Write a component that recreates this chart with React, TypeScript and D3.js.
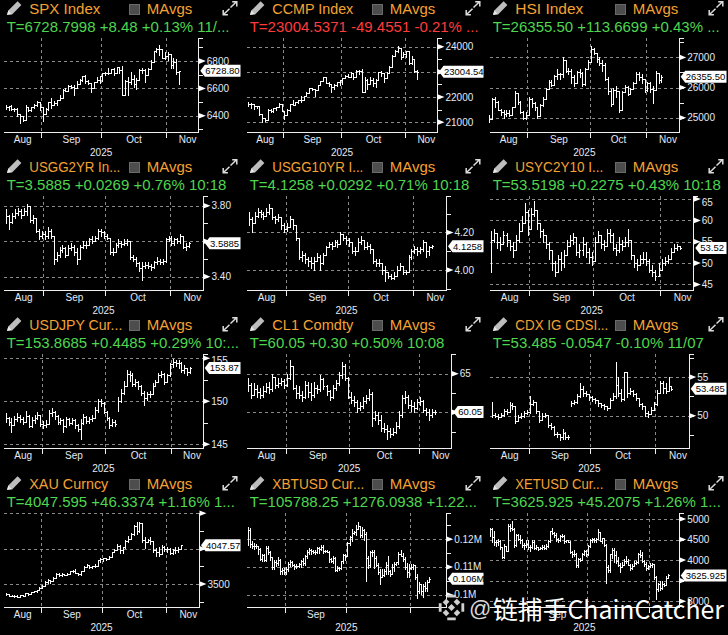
import React from 'react';
import * as d3 from 'd3';

const ORANGE = '#f6a233';
const GREEN = '#4fd64f';
const RED = '#ff3b3b';
const AXIS = '#eeeeee';
const LABEL = '#e4eaf4';
const GRID = '#8a8a8a';
const FONT = '"Liberation Sans", Arial, sans-serif';

// ---------------- SPX Index ----------------
const spxClose = [6466.6,6468.5,6449.8,6449.2,6411.4,6395.8,6370.2,6466.9,6439.3,6465.9,6481.4,6501.9,6460.3,
  6415.5,6448.3,6502.1,6481.5,6495.2,6512.6,6532.0,6587.5,6584.3,6615.3,6606.8,6600.4,6631.9,6664.4,6693.8,6656.9,6637.9,6604.7,6643.7,6661.2,6688.5,
  6711.2,6715.4,6715.8,6740.3,6714.6,6753.7,6735.1,6552.5,6654.7,6644.3,6671.1,6629.1,6664.0,6735.1,6735.4,6699.4,6738.4,6791.7,6875.2,6890.9,6890.6,6822.3,6840.2,
  6852.0,6771.6,6796.3,6720.3,6728.8];
const spxHigh = [6480,6473,6481,6459,6456,6410,6394,6481,6466,6467,6487,6508,6493,
  6416,6453,6502,6533,6511,6513,6555,6592,6600,6626,6627,6624,6656,6671,6694,6697,6662,6640,6649,6680,6689,
  6715,6721,6750,6744,6750,6755,6756,6764,6665,6680,6720,6701,6673,6745,6750,6744,6746,6807,6875,6899,6920,6869,6866,
  6865,6828,6825,6812,6731];
const spxLow = [6450,6441,6441,6438,6400,6343,6360,6385,6438,6437,6457,6472,6444,
  6360,6418,6445,6454,6488,6479,6523,6539,6578,6599,6600,6551,6609,6637,6655,6640,6630,6570,6600,6645,6640,
  6651,6698,6705,6720,6700,6717,6715,6550,6600,6550,6630,6612,6597,6681,6715,6648,6700,6763,6844,6866,6847,6820,6815,
  6810,6752,6751,6707,6631];

// ---------------- CCMP Index ----------------
const ccmpClose = [21713,21711,21623,21630,21315,21172,21100,21496,21449,21544,21590,21705,21455,
  21280,21498,21707,21700,21799,21879,21886,22043,22141,22349,22333,22262,22470,22631,22789,22573,22498,22384,22484,22591,22660,
  22755,22844,22781,22941,22788,23043,23025,22204,22695,22521,22671,22562,22680,22991,22954,22740,22942,23205,23637,23827,23958,23581,23725,
  23834,23349,23500,23054,23004.5];
const ccmpHigh = [21800,21760,21720,21660,21600,21260,21180,21520,21510,21560,21620,21750,21680,
  21300,21520,21710,21880,21820,21890,22040,22060,22180,22360,22370,22330,22490,22640,22800,22800,22590,22460,22500,22610,22670,
  22770,22860,22930,22980,22960,23060,23070,23110,22780,22710,22800,22760,22710,23010,23030,22970,22990,23230,23660,23880,24020,23770,23800,
  23850,23650,23640,23470,23060];
const ccmpLow = [21640,21580,21520,21560,21290,20990,21040,21180,21420,21390,21500,21600,21430,
  21130,21380,21460,21700,21720,21760,21800,21880,22050,22190,22280,22040,22340,22530,22620,22550,22430,22200,22300,22440,22480,
  22520,22770,22780,22840,22730,22870,22920,22180,22530,22300,22560,22450,22410,22800,22850,22600,22830,23090,23560,23730,23810,23530,23580,
  23610,23300,23320,22990,22700];

// ---------------- HSI Index ----------------
const hsiClose = [24969,25613,25519,25270,25177,25122,25166,25105,25339,25829,25525,25201,24998,25077,
  25617,25497,25343,25058,25418,25633,25938,26200,26086,26388,26446,26438,26908,26544,26545,26344,26159,26519,26485,26128,26622,26855,
  27287,27140,26957,26829,26752,26290,25889,25441,25910,25888,25247,25858,26027,25781,25967,26160,26433,26347,26282,25907,
  26159,25952,25935,26485,26242,26355.5];
const hsiHigh = [25100,25650,25680,25560,25300,25250,25250,25250,25360,25900,25780,25550,25230,25200,
  25680,25650,25520,25350,25450,25700,26000,26250,26250,26420,26600,26480,27000,26800,26640,26600,26400,26550,26600,26500,26650,26900,
  27380,27300,27150,27000,26900,26800,26350,25950,26000,26050,25900,25900,26100,26050,26000,26200,26500,26500,26450,26200,
  26200,26200,26050,26550,26400,26420];
const hsiLow = [24850,25100,25350,25250,25100,25000,25050,25050,25100,25350,25450,25150,24950,24950,
  25200,25350,25250,25000,25100,25400,25700,25950,26050,26100,26300,26300,26350,26500,26450,26150,26050,26150,26350,26050,26100,26600,
  26950,27100,26850,26750,26550,26250,25800,25400,25600,25700,25200,25500,25850,25750,25800,25950,26200,26250,26150,25850,
  25900,25850,25500,26000,26150,26200];

// ---------------- USGG2YR ----------------
const us2Close = [3.74,3.71,3.74,3.76,3.77,3.75,3.77,3.80,3.72,3.73,3.66,3.63,3.64,3.63,3.66,3.63,3.50,3.52,3.55,3.56,
  3.52,3.56,3.57,3.54,3.50,3.57,3.58,3.58,3.61,3.60,3.62,3.66,3.65,3.63,3.62,3.54,3.54,3.58,3.59,3.585,
  3.59,3.60,3.51,3.50,3.475,3.45,3.46,3.465,3.46,3.455,3.48,3.49,3.48,3.49,3.61,3.62,3.59,3.61,3.60,3.63,3.57,3.575,3.5885];
const us2High = [3.78,3.75,3.76,3.78,3.79,3.78,3.79,3.81,3.79,3.75,3.73,3.67,3.66,3.66,3.68,3.67,3.61,3.54,3.57,3.58,
  3.57,3.58,3.59,3.58,3.56,3.58,3.60,3.60,3.62,3.63,3.63,3.67,3.67,3.66,3.64,3.62,3.56,3.59,3.61,3.60,
  3.61,3.61,3.60,3.52,3.51,3.48,3.48,3.48,3.48,3.47,3.49,3.51,3.50,3.50,3.62,3.63,3.63,3.62,3.62,3.64,3.63,3.59,3.595];
const us2Low = [3.70,3.67,3.70,3.73,3.75,3.73,3.75,3.75,3.71,3.70,3.65,3.61,3.62,3.61,3.62,3.62,3.47,3.49,3.51,3.54,
  3.51,3.52,3.55,3.52,3.47,3.50,3.56,3.56,3.58,3.59,3.60,3.61,3.63,3.62,3.61,3.53,3.52,3.54,3.57,3.57,
  3.58,3.58,3.50,3.49,3.46,3.43,3.38,3.45,3.45,3.44,3.45,3.47,3.47,3.47,3.48,3.60,3.58,3.58,3.59,3.59,3.56,3.55,3.57];

// ---------------- USGG10YR ----------------
const us10Close = [4.27,4.25,4.29,4.31,4.30,4.29,4.31,4.33,4.28,4.27,4.28,4.24,4.22,4.23,4.27,4.24,4.17,4.07,4.08,4.06,
  4.05,4.04,4.05,4.07,4.04,4.08,4.12,4.14,4.13,4.15,4.14,4.19,4.17,4.16,4.15,4.10,4.10,4.15,4.16,4.12,
  4.13,4.11,4.05,4.04,4.04,4.00,3.99,3.97,3.96,3.97,4.00,4.02,3.99,3.99,4.07,4.10,4.11,4.10,4.11,4.15,4.10,4.12,4.126];
const us10High = [4.31,4.28,4.31,4.33,4.32,4.31,4.33,4.35,4.32,4.29,4.30,4.28,4.25,4.25,4.29,4.27,4.24,4.14,4.10,4.09,
  4.07,4.07,4.07,4.09,4.08,4.09,4.13,4.15,4.15,4.16,4.16,4.20,4.19,4.18,4.17,4.15,4.12,4.17,4.18,4.16,
  4.15,4.14,4.10,4.06,4.06,4.04,4.02,3.99,3.98,3.99,4.02,4.04,4.02,4.00,4.08,4.11,4.13,4.12,4.12,4.16,4.15,4.13,4.135];
const us10Low = [4.24,4.20,4.25,4.28,4.28,4.27,4.29,4.30,4.27,4.25,4.26,4.22,4.20,4.21,4.23,4.22,4.16,4.06,4.05,4.04,
  4.02,4.01,4.00,4.05,4.00,4.03,4.10,4.12,4.11,4.13,4.12,4.14,4.16,4.14,4.13,4.09,4.08,4.10,4.14,4.11,
  4.11,4.09,4.04,4.02,4.02,3.98,3.94,3.96,3.95,3.95,3.97,4.00,3.98,3.98,3.99,4.06,4.09,4.08,4.09,4.10,4.07,4.08,4.115];

// ---------------- USYC2Y10 ----------------
const ycClose = [55.5,57.0,55.0,54.5,56.5,55.5,54.0,53.0,55.5,57.5,59.5,62.0,58.0,61.5,62.5,59.5,57.5,56.5,54.5,53.0,
  50.0,48.0,51.0,50.0,52.0,54.0,55.5,56.0,52.5,53.0,54.5,52.5,51.5,50.5,55.0,56.5,54.5,54.0,57.0,56.5,
  53.5,53.0,54.5,54.0,55.0,55.5,52.0,50.0,49.5,51.0,51.0,50.5,48.5,48.0,47.0,48.5,50.0,50.5,51.0,52.5,53.5,54.0,53.52];
const ycHigh = [57.5,58.0,57.0,56.0,57.5,57.0,55.5,55.0,56.5,59.5,61.0,64.0,62.5,63.0,64.5,62.0,59.5,58.0,56.5,55.0,
  53.0,50.5,52.0,52.5,53.0,55.5,56.5,57.0,56.0,54.5,56.0,55.0,53.5,52.5,56.0,57.5,56.0,55.5,58.0,58.0,
  57.0,54.5,56.0,55.5,56.0,58.0,55.0,52.0,51.0,52.0,52.5,52.5,51.0,49.5,48.5,50.0,51.0,51.5,52.0,53.5,54.5,54.5,53.8];
const ycLow = [48.0,55.0,53.5,53.0,54.5,54.0,53.0,51.5,53.5,55.0,57.5,59.5,56.5,59.0,61.0,58.0,56.0,55.0,53.5,51.0,
  48.5,47.0,49.0,48.5,49.0,52.5,54.5,54.5,52.0,51.5,52.0,51.5,50.0,49.5,50.5,55.0,53.5,53.0,54.5,55.0,
  53.0,52.0,52.5,53.0,54.0,54.0,51.0,49.0,48.5,49.5,50.0,49.5,48.0,47.0,46.0,47.0,48.5,49.5,50.0,51.0,52.5,53.0,53.2];

// ---------------- USDJPY ----------------
const jpyClose = [148.1,147.6,147.2,147.9,148.2,147.9,147.6,148.3,147.1,147.8,148.0,148.4,147.3,147.2,147.4,148.6,148.8,148.3,147.6,147.8,
  147.1,147.9,147.5,147.8,147.2,146.8,147.5,148.2,147.7,147.9,148.0,149.0,150.0,149.8,148.8,148.0,147.2,147.6,147.4,150.0,
  151.0,151.8,153.2,153.0,152.0,152.2,151.8,151.0,150.4,150.8,150.9,151.8,152.2,153.0,153.2,152.2,153.0,154.3,154.6,154.4,
  154.5,153.6,153.9,153.4,153.87];
const jpyHigh = [148.6,148.2,148.0,148.3,148.6,148.4,148.2,148.9,148.4,148.2,148.4,148.7,148.4,147.7,147.8,149.0,149.2,148.9,148.4,148.1,
  147.9,148.2,148.0,148.1,147.9,147.4,147.9,148.5,148.3,148.2,148.4,149.3,150.3,150.3,149.9,148.9,148.2,147.9,147.8,150.5,
  151.4,152.4,153.6,153.5,153.3,152.6,152.3,151.9,151.2,151.1,151.2,152.1,152.5,153.3,153.5,153.3,153.2,154.5,154.9,154.8,
  154.8,154.6,154.2,153.7,154.0];
const jpyLow = [147.6,147.2,146.4,147.2,147.7,147.6,147.3,147.6,147.0,147.0,147.5,147.9,147.1,146.9,147.0,147.3,148.3,147.9,147.3,147.3,
  146.4,147.0,147.2,147.3,146.9,146.5,145.6,147.3,147.5,147.5,147.7,148.0,148.8,149.5,148.6,147.8,146.9,147.1,147.1,148.9,
  149.9,150.9,151.8,152.4,151.8,151.8,151.4,150.7,149.6,150.2,150.5,150.8,151.8,152.3,152.8,152.0,152.2,152.9,154.0,154.1,
  153.9,153.4,153.3,153.1,153.3];

// ---------------- CL1 Comdty ----------------
const clClose = [63.6,62.3,63.0,62.6,62.2,62.8,63.3,63.0,64.6,63.5,63.8,64.0,63.6,64.5,66.0,63.2,62.5,62.3,62.0,63.6,
  62.6,62.2,63.2,63.0,64.3,63.4,62.8,62.0,63.2,63.8,64.8,66.0,64.5,62.0,61.6,61.4,60.6,60.8,61.5,61.8,
  62.4,59.3,59.6,59.0,58.0,57.9,57.6,57.2,57.4,58.2,59.6,61.8,62.0,61.0,60.8,60.5,61.3,61.5,60.3,60.0,59.6,60.1,60.05];
const clHigh = [64.5,63.8,63.8,63.6,63.2,63.4,63.8,63.9,65.0,64.6,64.4,64.5,64.3,65.0,66.8,65.6,63.6,63.4,62.8,64.0,
  63.9,63.8,63.9,63.6,64.8,64.4,63.6,62.9,63.6,64.2,65.2,66.5,66.3,64.6,62.6,62.1,61.6,61.3,62.0,62.3,
  63.0,62.6,60.2,60.0,59.7,58.6,58.4,58.0,58.0,58.8,60.2,62.3,62.8,62.2,61.6,61.3,61.7,62.0,61.6,60.6,60.4,60.4,60.3];
const clLow = [62.8,61.8,62.3,62.0,61.8,62.0,62.6,62.5,62.8,63.2,63.3,63.5,63.2,63.4,64.3,63.0,61.9,61.8,61.5,61.8,
  62.0,61.6,62.0,62.5,62.8,63.0,62.2,61.6,61.8,62.9,63.5,64.5,64.2,61.8,61.2,60.8,60.1,60.3,60.6,61.2,
  61.6,58.2,59.0,58.5,57.6,57.4,56.6,56.8,57.0,57.3,58.0,59.4,61.2,60.6,60.2,60.0,60.4,60.9,60.0,59.6,59.0,59.4,59.8];

// ---------------- CDX IG CDSI ----------------
const cdxClose = [50.1,50.0,49.9,50.1,50.6,50.5,51.4,51.2,49.3,49.8,50.0,50.3,50.5,51.5,51.8,50.6,49.5,50.0,50.1,48.8,
  48.6,47.7,47.6,47.2,47.8,47.3,47.2,
  51.6,51.8,52.5,53.5,53.0,52.8,52.4,52.2,52.0,51.6,51.4,51.2,51.0,52.0,52.5,54.0,53.0,52.2,55.6,53.0,53.2,52.8,52.3,
  51.5,51.3,50.3,50.2,50.8,51.5,53.0,54.2,53.6,53.2,53.8,53.485];
const cdxHigh = [51.8,50.4,50.2,50.4,50.9,50.9,51.8,51.6,51.0,50.1,50.3,50.6,50.8,52.5,52.1,51.7,50.5,50.3,50.4,50.1,
  49.0,48.7,47.9,47.6,48.3,47.9,47.5,
  51.9,52.1,52.8,54.2,53.8,53.2,52.8,52.6,52.3,52.0,51.7,51.5,51.3,52.3,52.9,56.9,55.0,53.5,55.7,55.4,53.6,53.3,52.9,
  52.2,51.6,51.0,50.6,51.1,51.8,53.3,54.5,54.5,54.2,55.0,53.9];
const cdxLow = [49.9,49.8,49.6,49.8,50.0,50.2,50.5,50.9,49.1,49.4,49.7,49.9,50.2,50.4,51.4,50.4,49.2,49.4,49.8,48.6,
  48.3,47.5,47.3,46.9,47.0,47.0,47.0,
  51.3,51.5,51.7,52.4,52.6,52.5,52.1,51.9,51.7,51.3,51.1,50.9,50.7,51.0,52.1,52.3,52.5,51.9,52.0,52.4,52.8,52.5,52.0,
  51.2,50.9,50.0,49.9,50.2,50.8,51.4,53.0,53.0,52.9,53.2,53.3];

// ---------------- XAU Curncy ----------------
const xauClose = [3355,3335,3336,3332,3316,3346,3338,3372,3365,3393,3397,3417,3448,
  3476,3533,3560,3545,3587,3636,3625,3640,3635,3643,3679,3689,3659,3644,3685,3746,3764,3735,3749,3760,3833,3859,
  3865,3857,3886,3960,3985,4040,3975,4018,4110,4143,4208,4326,4251,4356,4125,4095,4126,4112,3982,3952,3930,4025,4002,
  4000,3932,3980,3977,4001,4047.6];
const xauHigh = [3375,3360,3350,3345,3340,3350,3348,3380,3378,3395,3400,3423,3453,
  3490,3540,3578,3560,3600,3660,3650,3650,3645,3655,3685,3700,3707,3660,3690,3760,3790,3768,3760,3780,3835,3870,
  3875,3875,3890,3960,3990,4060,4045,4025,4116,4180,4215,4330,4380,4380,4360,4160,4140,4160,4050,4010,4030,4046,4035,
  4030,4010,3995,4030,4020,4055];
const xauLow = [3340,3325,3328,3320,3312,3312,3325,3326,3350,3360,3385,3395,3410,
  3445,3470,3520,3510,3540,3580,3615,3620,3625,3630,3640,3665,3650,3630,3635,3680,3735,3720,3720,3735,3755,3810,
  3820,3840,3850,3885,3950,3985,3945,3945,4010,4100,4130,4190,4210,4240,4090,4010,4090,4070,3960,3890,3900,3940,3965,
  3960,3930,3925,3935,3960,4000];

// ---------------- XBTUSD Curncy (calendar days) ----------------
const xbtClose = [123300,118300,117400,117500,117400,116300,112900,114300,112500,116900,115400,113500,110100,111800,111300,112500,108400,108800,108300,
  109200,111200,111700,110700,110200,110200,111100,112100,111500,113900,115500,116100,115900,115300,115400,116800,116500,117100,115700,115700,
  115300,112700,112000,113300,109000,109700,109700,112100,114400,114100,
  118600,120600,122300,122400,123500,124700,121400,123300,121700,113200,110600,115200,115300,113100,110800,108200,106500,107200,108600,110600,
  108400,107600,110100,111000,111600,114500,114100,112900,110000,108300,109600,
  110100,110600,106500,101500,103900,101300,103300,102300,104700,105788];
const xbtHigh = [124400,124000,119200,118600,118400,117600,116700,114600,114800,117400,117400,115600,113600,112400,112600,113400,112700,109500,109500,
  109900,111700,112600,112200,111200,110900,111400,112600,113200,114300,116000,116700,116300,116100,116000,117000,117200,117900,117900,116000,
  116000,115600,113300,113900,113400,110400,110000,112300,114800,114800,
  118900,121000,123800,122900,125000,126200,124900,124200,123800,122500,113900,115800,116100,116000,113800,111300,109300,109300,109200,111700,
  114000,109000,110900,111600,111900,115500,116000,115000,113500,111500,111100,
  111000,111200,110800,107300,104700,104000,104000,104500,105400,106500];
const xbtLow = [118000,117200,116800,116500,116700,114700,112400,112200,112000,112200,114600,112600,109300,109100,110400,110800,107600,107500,107300,
  107500,108700,110500,110200,109300,109700,109900,110000,110600,110800,113300,114700,114800,115100,114600,115000,115100,116000,115100,115300,
  115200,111800,111600,111500,108500,108600,109000,109200,111500,112600,
  113900,118000,119300,121700,121600,123700,120700,120700,119700,104800,109700,110100,113800,109700,110200,107600,103700,106300,106700,107500,
  107400,106800,107600,108600,110600,111200,113800,112300,109200,106400,106400,
  109200,109400,105600,98900,100800,100300,99300,101500,101500,104600];

// ---------------- XETUSD Curncy (calendar days) ----------------
const xetClose = [4750,4560,4440,4430,4470,4320,4080,4340,4220,4830,4780,4760,4380,4600,4510,4500,4360,4370,4390,
  4310,4320,4450,4300,4310,4270,4300,4310,4300,4350,4460,4710,4660,4600,4520,4500,4590,4590,4470,4480,4450,4200,4160,4150,3870,4030,4010,4140,4220,4150,
  4350,4490,4510,4480,4520,4690,4470,4530,4370,3840,3750,4150,4240,4130,3990,3890,3830,3890,3980,3990,3880,3800,3850,3930,3950,4160,4120,3980,3900,3810,3850,
  3880,3900,3600,3290,3420,3320,3430,3390,3570,3626];
const xetHigh = [4790,4790,4700,4490,4520,4480,4330,4390,4350,4880,4870,4950,4790,4630,4640,4610,4520,4420,4490,
  4480,4380,4480,4490,4370,4320,4330,4370,4360,4390,4480,4720,4770,4680,4660,4530,4600,4640,4620,4500,4490,4460,4220,4240,4170,4060,4050,4170,4240,4240,
  4360,4510,4540,4540,4530,4750,4690,4540,4530,4390,3880,4160,4290,4290,4210,4080,3930,3950,4020,4090,4020,3900,3900,3990,3970,4170,4250,4190,4010,3950,3890,
  3930,3920,3910,3620,3440,3480,3480,3450,3610,3650];
const xetLow = [4580,4450,4380,4340,4370,4260,4060,4050,4210,4220,4720,4740,4310,4350,4480,4420,4330,4270,4330,
  4280,4210,4300,4260,4260,4250,4260,4270,4280,4270,4330,4450,4640,4570,4460,4450,4470,4560,4420,4450,4430,4180,4080,4100,3830,3830,3980,4000,4120,4100,
  4120,4330,4440,4450,4440,4510,4460,4420,4340,3440,3720,3710,4050,3950,3940,3850,3700,3820,3870,3930,3880,3750,3780,3850,3900,3940,4080,3960,3860,3750,3780,
  3830,3830,3550,3060,3240,3270,3300,3360,3390,3560];

// ---------------- headers ----------------
const titles = ['SPX Index','CCMP Index','HSI Index','USGG2YR In...','USGG10YR I...','USYC2Y10 I...',
  'USDJPY Cur...','CL1 Comdty','CDX IG CDSI...','XAU Curncy','XBTUSD Cur...','XETUSD Cur...'];
const titleWidths = [71, 81, 68, 91, 91, 88, 93, 81, 93, 79, 92, 88];
const quotes = ['T=6728.7998 +8.48 +0.13% 11/...','T=23004.5371 -49.4551 -0.21% ...','T=26355.50 +113.6699 +0.43% ...',
  'T=3.5885 +0.0269 +0.76% 10:18','T=4.1258 +0.0292 +0.71% 10:18','T=53.5198 +0.2275 +0.43% 10:18',
  'T=153.8685 +0.4485 +0.29% 10:...','T=60.05 +0.30 +0.50% 10:08','T=53.485 -0.0547 -0.10% 11/07',
  'T=4047.595 +46.3374 +1.16% 1...','T=105788.25 +1276.0938 +1.22...','T=3625.925 +45.2075 +1.26% 1...'];
const lastLabels = ['6728.80','23004.54','26355.50','3.5885','4.1258','53.52','153.87','60.05','53.485','4047.57','0.106M','3625.925'];
const monthNames = ['Aug','Sep','Oct','Nov'];

interface PanelSpec {
  close: number[]; high: number[]; low: number[]; breaks: number[];
  monthStarts: number[]; xDomain: [number, number]; yDomain: [number, number];
  ticks: number[]; grid: number[]; labels: number[]; marks: number[];
  fmt: (v: number) => string; axisX: number; showMonths: boolean[]; red?: boolean;
}

const fInt = d3.format('d');
const f2 = d3.format('.2f');
const fM = (v: number) => `${+(v / 1e6).toFixed(2)}M`;

const panels: PanelSpec[] = [
  { close: spxClose, high: spxHigh, low: spxLow, breaks: [], monthStarts: [13, 34, 57], xDomain: [-0.11, 68.24], yDomain: [6277, 6969],
    ticks: d3.range(6300, 6901, 100), grid: [6400, 6600, 6800], labels: [6400, 6600, 6800], marks: [], fmt: fInt, axisX: 198.3, showMonths: [true, true, true, true] },
  { close: ccmpClose, high: ccmpHigh, low: ccmpLow, breaks: [], monthStarts: [13, 34, 57], xDomain: [0, 68.69], yDomain: [20588, 24348],
    ticks: d3.range(21000, 24001, 500), grid: [21000, 22000, 23000, 24000], labels: [21000, 22000, 24000], marks: [23000], fmt: fInt, axisX: 194, showMonths: [true, true, true, true], red: true },
  { close: hsiClose, high: hsiHigh, low: hsiLow, breaks: [], monthStarts: [14, 36, 56], xDomain: [0.71, 67.62], yDomain: [24510, 27643],
    ticks: d3.range(25000, 27501, 500), grid: [25000, 26000, 27000], labels: [25000, 26000, 27000], marks: [], fmt: fInt, axisX: 192.7, showMonths: [true, true, true, true] },
  { close: us2Close, high: us2High, low: us2Low, breaks: [], monthStarts: [13, 34, 56], xDomain: [-0.34, 67.19], yDomain: [3.322, 3.855],
    ticks: [3.4, 3.5, 3.6, 3.7, 3.8], grid: [3.4, 3.6, 3.8], labels: [3.4, 3.8], marks: [3.6], fmt: f2, axisX: 203, showMonths: [true, true, true, true] },
  { close: us10Close, high: us10High, low: us10Low, breaks: [], monthStarts: [13, 34, 56], xDomain: [-0.07, 67.16], yDomain: [3.891, 4.394],
    ticks: [3.9, 4.0, 4.1, 4.2, 4.3], grid: [4.0, 4.2], labels: [4.0, 4.2], marks: [], fmt: f2, axisX: 203, showMonths: [true, true, true, true] },
  { close: ycClose, high: ycHigh, low: ycLow, breaks: [], monthStarts: [13, 34, 56], xDomain: [0.07, 66.94], yDomain: [43.59, 65.71],
    ticks: d3.range(45, 66, 5), grid: d3.range(45, 66, 5), labels: d3.range(45, 66, 5), marks: [], fmt: fInt, axisX: 207.3, showMonths: [true, true, true, true] },
  { close: jpyClose, high: jpyHigh, low: jpyLow, breaks: [39], monthStarts: [13, 35, 58], xDomain: [-0.09, 68.9], yDomain: [144.5, 155.5],
    ticks: d3.range(145, 155.1, 2.5), grid: [145, 150, 155], labels: [145, 150, 155], marks: [], fmt: fInt, axisX: 202.7, showMonths: [true, true, true, true] },
  { close: clClose, high: clHigh, low: clLow, breaks: [], monthStarts: [13, 34, 57], xDomain: [0.2, 67.78], yDomain: [55.31, 67.56],
    ticks: d3.range(57.5, 67.6, 2.5), grid: [60, 65], labels: [65], marks: [60], fmt: fInt, axisX: 208.3, showMonths: [true, true, true, true] },
  { close: cdxClose, high: cdxHigh, low: cdxLow, breaks: [27], monthStarts: [13, 34, 56], xDomain: [-0.14, 67.36], yDomain: [45.76, 57.99],
    ticks: d3.range(47.5, 57.6, 2.5), grid: [50, 55], labels: [50, 55], marks: [], fmt: fInt, axisX: 202.7, showMonths: [true, true, true, true] },
  { close: xauClose, high: xauHigh, low: xauLow, breaks: [], monthStarts: [13, 35, 58], xDomain: [-0.22, 69.98], yDomain: [3169, 4504],
    ticks: d3.range(3250, 4501, 250), grid: [3500, 4000, 4500], labels: [3500], marks: [4000, 4500], fmt: fInt, axisX: 199, showMonths: [true, true, true, true] },
  { close: xbtClose, high: xbtHigh, low: xbtLow, breaks: [], monthStarts: [19, 49, 80], xDomain: [0.25, 97.65], yDomain: [95407, 129403],
    ticks: d3.range(100000, 125001, 5000), grid: [100000, 110000, 120000], labels: [100000, 110000, 120000], marks: [], fmt: fM, axisX: 202.7, showMonths: [false, true, false, false] },
  { close: xetClose, high: xetHigh, low: xetLow, breaks: [], monthStarts: [19, 49, 80], xDomain: [0.55, 94.66], yDomain: [2846, 5147],
    ticks: d3.range(3000, 5001, 500), grid: d3.range(3000, 5001, 500), labels: [3000, 4000, 4500, 5000], marks: [3500], fmt: fInt, axisX: 192.7, showMonths: [false, true, false, false] },
];

const LEFT = 4, TOP = 38, BOTTOM = 132.5;
const px = (v: number) => Math.round(v) + 0.5;

function Panel({ p, idx, ox, oy }: { p: PanelSpec; idx: number; ox: number; oy: number }) {
  const xs = d3.scaleLinear().domain(p.xDomain).range([LEFT, p.axisX]);
  const ys = d3.scaleLinear().domain(p.yDomain).range([BOTTOM, TOP]);
  const half = (xs(1) - xs(0)) / 2;
  let bars = '';
  p.close.forEach((c, i) => {
    const x = px(xs(i + 0.5));
    const prev = i > 0 && !p.breaks.includes(i) ? p.close[i - 1] : null;
    const hi = Math.max(p.high[i], c, prev ?? -Infinity);
    const lo = Math.min(p.low[i], c, prev ?? Infinity);
    bars += `M${x},${Math.round(ys(hi))}V${Math.round(ys(lo)) + 1}`;
    if (prev != null) bars += `M${(x - half).toFixed(2)},${px(ys(prev))}H${x}`;
    bars += `M${x},${px(ys(c))}H${(x + half).toFixed(2)}`;
  });
  const bx = p.monthStarts.map((b) => px(xs(b)));
  const monthX = [(LEFT + bx[0]) / 2, (bx[0] + bx[1]) / 2, (bx[1] + bx[2]) / 2, p.axisX - 1.8];
  const lastV = p.close[p.close.length - 1];
  const ly = ys(lastV);
  const ax = p.axisX;
  const tri = (y: number) => `${ax + 0.5},${y - 2.8} ${ax + 7.5},${y} ${ax + 0.5},${y + 2.8}`;
  return (
    <g transform={`translate(${ox},${oy})`}>
      {/* header */}
      <path d="M7,15 L8.3,10.6 L17.6,1.3 L21.4,5.1 L12.1,14.4 Z" fill="#bdbdbd" />
      <path d="M7,15 L8.3,10.6 L11.5,13.8 Z" fill="#e8e8e8" />
      <text x={29.3} y={13.6} fill={ORANGE} fontSize={15} fontFamily={FONT}
        textLength={titleWidths[idx]} lengthAdjust="spacingAndGlyphs">{titles[idx]}</text>
      <rect x={129.5} y={4.5} width={10} height={10} fill="#4d4d4d" stroke="#6a6a6a" />
      <text x={146.7} y={13.6} fill={ORANGE} fontSize={15} fontFamily={FONT}>MAvgs</text>
      <g stroke="#dcdcdc" strokeWidth={1.5} fill="none">
        <path d="M230.5,7.5 L236.5,1.8 M232.2,1.8 H236.8 V6.4" />
        <path d="M229.5,8.8 L223.5,14.5 M223.2,9.9 V14.8 H227.9" />
      </g>
      <text x={6.7} y={32.4} fill={p.red ? RED : GREEN} fontSize={15} fontFamily={FONT}>{quotes[idx]}</text>
      {/* grid */}
      <g stroke={GRID} strokeDasharray="3,3" strokeWidth={1} shapeRendering="crispEdges">
        {p.grid.map((v) => (
          <line key={`h${v}`} x1={LEFT} x2={ax} y1={px(ys(v))} y2={px(ys(v))} />
        ))}
        {bx.map((x, i) => (
          <line key={`v${i}`} x1={x} x2={x} y1={TOP} y2={BOTTOM} />
        ))}
      </g>
      {/* bars */}
      <path d={bars} stroke="#ffffff" strokeWidth={1} fill="none" shapeRendering="crispEdges" />
      {/* axes */}
      <g stroke={AXIS} strokeWidth={1} shapeRendering="crispEdges">
        <line x1={LEFT} x2={ax + 0.5} y1={BOTTOM} y2={BOTTOM} />
        <line x1={px(ax)} x2={px(ax)} y1={TOP - 0.5} y2={BOTTOM} />
        <line x1={px(ax)} x2={px(ax) + 4} y1={TOP} y2={TOP} />
        {p.ticks.map((v) => (
          <line key={`t${v}`} x1={px(ax)} x2={px(ax) + 4} y1={px(ys(v))} y2={px(ys(v))} />
        ))}
        {bx.map((x, i) => (
          <line key={`mt${i}`} x1={x} x2={x} y1={BOTTOM} y2={BOTTOM + 5} />
        ))}
      </g>
      {/* y labels */}
      {p.labels.concat(p.marks).map((v) => (
        <polygon key={`tr${v}`} points={tri(ys(v))} fill="#ffffff" />
      ))}
      {p.labels.map((v) => (
        <text key={`l${v}`} x={ax + 8.5} y={Math.max(ys(v), 44)} dy="0.35em" fill={LABEL} fontSize={10} fontFamily={FONT}>{p.fmt(v)}</text>
      ))}
      {/* last value tag */}
      <path d={`M${ax + 2},${ly} L${ax + 6.5},${ly - 6} H${240.5} V${ly + 6} H${ax + 6.5} Z`} fill="#ffffff" />
      <text x={ax + 7} y={ly} dy="0.36em" fill="#000" fontSize={9.5} fontFamily={FONT}>{lastLabels[idx]}</text>
      {/* month labels */}
      {monthNames.map((m, i) => p.showMonths[i] ? (
        <text key={m} x={monthX[i]} y={143} textAnchor={i === 3 ? 'end' : 'middle'} fill={LABEL} fontSize={10} fontFamily={FONT}>{m}</text>
      ) : null)}
      <text x={(LEFT + ax) / 2} y={155.5} textAnchor="middle" fill={LABEL} fontSize={10} fontFamily={FONT}>2025</text>
    </g>
  );
}

const colX = [0, 243, 486];
const rowY = [0, 158, 316, 475];

export default function App() {
  return (
    <svg width={728} height={635} viewBox="0 0 728 635"
      style={{ position: 'fixed', left: 0, top: 0, background: '#000', display: 'block' }}>
      <rect x={0} y={0} width={728} height={635} fill="#000" />
      {panels.map((p, i) => (
        <Panel key={i} p={p} idx={i} ox={colX[i % 3]} oy={rowY[Math.floor(i / 3)]} />
      ))}
      {/* watermark */}
      <g transform="translate(451.5,607.5) rotate(45)" fill="#cfcfcf">
        <rect x={-2.5} y={-2.5} width={5} height={5} />
        <rect x={-10} y={-2.5} width={4.5} height={5} />
        <rect x={5.5} y={-2.5} width={4.5} height={5} />
        <rect x={-2.5} y={-10} width={5} height={4.5} />
        <rect x={-2.5} y={5.5} width={5} height={4.5} />
        <path d="M-12,-6 L-6,-12 L-4,-10 L-10,-4 Z M12,6 L6,12 L4,10 L10,4 Z M6,-12 L12,-6 L10,-4 L4,-10 Z M-6,12 L-12,6 L-10,4 L-4,10 Z" />
      </g>
      <text x={469} y={616} fill="#d8d8d8" fontSize={22} fontFamily={FONT}>@</text>
      <text x={493} y={619} fill="#ffffff" fontSize={25} fontFamily={'"Noto Sans CJK SC", sans-serif'}
        textLength={231} lengthAdjust="spacingAndGlyphs">链捕手ChainCatcher</text>
    </svg>
  );
}
